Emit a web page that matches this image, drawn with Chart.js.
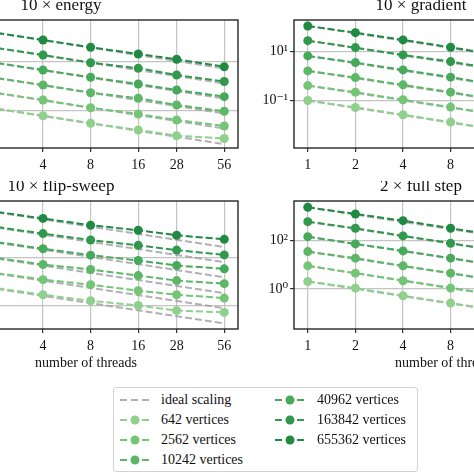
<!DOCTYPE html>
<html><head><meta charset="utf-8">
<script src="https://cdn.jsdelivr.net/npm/chart.js@4"></script>
<style>
html,body{margin:0;padding:0;background:#fff;}
#wrap{position:relative;width:474px;height:474px;overflow:hidden;background:#fff;font-family:"Liberation Serif","DejaVu Serif",serif;}
#wrap canvas{position:absolute;}
#legend{position:absolute;left:113px;top:387px;width:305px;height:85px;border:1px solid #d2d2d2;border-radius:3px;box-sizing:border-box;background:#fff;}
.item{position:absolute;height:20px;line-height:20px;font-size:14px;color:#111;white-space:nowrap;}
.item svg{position:absolute;left:0;top:5px;}
.item span{position:absolute;top:0;}
</style></head>
<body><div id="wrap">
<canvas id="cEnergy" width="364" height="180" style="left:-116px;top:0px"></canvas>
<canvas id="cGradient" width="364" height="180" style="left:244px;top:0px"></canvas>
<canvas id="cFlip" width="364" height="198" style="left:-116px;top:181px"></canvas>
<canvas id="cFull" width="364" height="198" style="left:244px;top:181px"></canvas>
<div id="legend"></div>
</div>
<script>
// ---- data ----
const threads = [1, 2, 4, 8, 16, 28, 56];
const threadTicks = [1, 2, 4, 8, 16, 28, 56];
const seriesLabels = ['642 vertices', '2562 vertices', '10242 vertices', '40962 vertices', '163842 vertices', '655362 vertices'];
const seriesColors = ['#8fd18c', '#75c577', '#5cb866', '#47aa5a', '#31994c', '#218a42'];
const idealLabel = 'ideal scaling';
const idealColor = 'rgba(160,155,165,0.8)';

// run times (one row per mesh size, one column per thread count)
const energyTimes = [
  [0.249, 0.126, 0.0643, 0.0315, 0.0168, 0.00982, 0.00755],
  [1.09, 0.553, 0.281, 0.136, 0.0755, 0.0430, 0.0244],
  [4.45, 2.26, 1.15, 0.558, 0.330, 0.176, 0.0973],
  [18.2, 9.27, 4.71, 2.38, 1.26, 0.720, 0.384],
  [74.7, 38.0, 19.3, 9.36, 5.53, 2.94, 1.60],
  [306, 156, 79.1, 39.8, 21.2, 12.9, 6.43]
];
const gradientTimes = [
  [0.100, 0.0518, 0.0261, 0.0131, 0.00619, 0.00387, 0.0020],
  [0.409, 0.220, 0.107, 0.0538, 0.0254, 0.0158, 0.0082],
  [1.63, 0.869, 0.438, 0.220, 0.104, 0.0649, 0.0337],
  [6.67, 3.56, 1.79, 0.902, 0.426, 0.265, 0.138],
  [28.1, 14.6, 7.33, 3.91, 1.84, 1.15, 0.597],
  [112, 59.7, 30.1, 15.1, 7.13, 4.46, 2.31]
];
const flipTimes = [
  [1.04, 0.552, 0.289, 0.162, 0.103, 0.0635, 0.0533],
  [4.45, 2.35, 1.23, 0.760, 0.426, 0.289, 0.210],
  [18.9, 10.0, 5.24, 3.23, 1.81, 1.12, 0.836],
  [86.1, 45.5, 23.8, 12.8, 7.71, 4.75, 3.46],
  [366, 194, 101, 54.7, 32.8, 20.8, 13.1],
  [1560, 824, 432, 226, 140, 86.1, 58.5]
];
const fullStepTimes = [
  [2.06, 1.10, 0.530, 0.265, 0.130, 0.0775, 0.0399],
  [9.10, 4.55, 2.20, 1.10, 0.541, 0.321, 0.165],
  [35.2, 18.9, 9.10, 4.55, 2.24, 1.33, 0.684],
  [146, 73.1, 37.7, 18.9, 9.27, 5.51, 2.84],
  [605, 324, 156, 78.2, 38.4, 22.8, 11.7],
  [2367, 1256, 665, 324, 159, 94.4, 48.6]
];
const panelTitles = ['10 \u00d7 energy', '10 \u00d7 gradient', '10 \u00d7 flip-sweep', '2 \u00d7 full step'];
const xAxisTitle = 'number of threads';
const energyYTicks = [1e-1, 1e1];
const gradientYTicks = [1e-1, 1e1];
const flipYTicks = [1e-1, 1e1];
const fullStepYTicks = [1e0, 1e2];

// ---- chart building ----
const FONT = '"Liberation Serif", "DejaVu Serif", serif';
const SUP = {'-':'\u207b','0':'\u2070','1':'\u00b9','2':'\u00b2','3':'\u00b3','4':'\u2074','5':'\u2075','6':'\u2076','7':'\u2077','8':'\u2078','9':'\u2079'};
function powLabel(v){
  const e = Math.round(Math.log10(v));
  return '10' + String(e).split('').map(c => SUP[c]).join('');
}
const framePlugin = {
  id: 'frame',
  afterDatasetsDraw(chart){
    const {ctx, chartArea: a} = chart;
    ctx.save();
    ctx.strokeStyle = '#262626';
    ctx.lineWidth = 1.4;
    ctx.setLineDash([]);
    ctx.strokeRect(a.left, a.top, a.right - a.left, a.bottom - a.top);
    ctx.restore();
  }
};

function makePanel(id, title, times, yTicks, yMin, yMax, withXTitle){
  const datasets = [];
  times.forEach((row, i) => {
    datasets.push({
      label: seriesLabels[i],
      data: row.map((v, j) => ({x: threads[j], y: v})),
      borderColor: seriesColors[i],
      backgroundColor: seriesColors[i],
      pointBackgroundColor: seriesColors[i],
      borderWidth: 2,
      borderDash: [7, 3],
      pointRadius: 4.5,
      pointBorderWidth: 0,
      pointHoverRadius: 4.5,
      tension: 0,
      fill: false,
      order: 0
    });
  });
  times.forEach((row) => {
    datasets.push({
      label: idealLabel,
      data: threads.map(t => ({x: t, y: row[0] / t})),
      borderColor: idealColor,
      borderWidth: 2,
      borderDash: [7, 3],
      pointRadius: 0,
      tension: 0,
      fill: false,
      order: 1
    });
  });
  const gridColor = '#c4c4c4';
  new Chart(document.getElementById(id), {
    type: 'line',
    data: {datasets},
    plugins: [framePlugin],
    options: {
      responsive: false,
      animation: false,
      devicePixelRatio: 1,
      layout: {padding: {left: 0, right: 10, top: 0, bottom: 0}, autoPadding: false},
      plugins: {
        legend: {display: false},
        tooltip: {enabled: false},
        title: {
          display: true, text: title, color: '#111',
          font: {family: FONT, size: 17, weight: 'normal', lineHeight: '12px'},
          padding: {top: 0, bottom: 8}
        }
      },
      scales: {
        x: {
          type: 'logarithmic',
          min: 0.818, max: 68.4,
          bounds: 'data',
          afterBuildTicks: s => { s.ticks = threadTicks.map(v => ({value: v})); },
          afterFit: s => { s.height = withXTitle ? 50 : 32; },
          ticks: {
            autoSkip: false, maxRotation: 0, padding: 5, color: '#111',
            font: {family: FONT, size: 14},
            callback: v => String(v)
          },
          grid: {color: gridColor, lineWidth: 1.2, drawTicks: true, tickLength: 4, tickColor: '#333', tickWidth: 1.2},
          border: {display: false},
          title: {
            display: withXTitle, text: xAxisTitle, color: '#111',
            font: {family: FONT, size: 14, lineHeight: 1.2},
            padding: {top: 0, bottom: 7.6}
          }
        },
        y: {
          type: 'logarithmic',
          min: yMin, max: yMax,
          bounds: 'data',
          afterBuildTicks: s => { s.ticks = yTicks.filter(v => v >= yMin && v <= yMax).map(v => ({value: v})); },
          afterFit: s => { s.width = 50; },
          ticks: {
            autoSkip: false, padding: 2, color: '#111',
            font: {family: FONT, size: 14},
            callback: v => powLabel(v)
          },
          grid: {color: gridColor, lineWidth: 1.2, drawTicks: true, tickLength: 4, tickColor: '#333', tickWidth: 1.2},
          border: {display: false}
        }
      }
    }
  });
}

makePanel('cEnergy', panelTitles[0], energyTimes, energyYTicks, Math.pow(10, -2.51), Math.pow(10, 2.714), false);
makePanel('cGradient', panelTitles[1], gradientTimes, gradientYTicks, Math.pow(10, -2.943), Math.pow(10, 2.294), false);
makePanel('cFlip', panelTitles[2], flipTimes, flipYTicks, Math.pow(10, -1.964), Math.pow(10, 3.361), true);
makePanel('cFull', panelTitles[3], fullStepTimes, fullStepYTicks, Math.pow(10, -1.646), Math.pow(10, 3.634), true);

// ---- legend (HTML) ----
const legendEntries = [{label: idealLabel, color: idealColor, marker: false}]
  .concat(seriesLabels.map((l, i) => ({label: l, color: seriesColors[i], marker: true})));
const legend = document.getElementById('legend');
legendEntries.forEach((e, k) => {
  const col = k < 4 ? 0 : 1;
  const row = k < 4 ? k : k - 4;
  const div = document.createElement('div');
  div.className = 'item';
  div.style.left = (col === 0 ? 6 : 161) + 'px';
  div.style.top = (2 + row * 20) + 'px';
  const svgNS = 'http://www.w3.org/2000/svg';
  const svg = document.createElementNS(svgNS, 'svg');
  svg.setAttribute('width', '32'); svg.setAttribute('height', '10');
  const line = document.createElementNS(svgNS, 'line');
  line.setAttribute('x1', '0'); line.setAttribute('x2', '30');
  line.setAttribute('y1', '5'); line.setAttribute('y2', '5');
  line.setAttribute('stroke', e.color); line.setAttribute('stroke-width', '2');
  line.setAttribute('stroke-dasharray', '7 4');
  svg.appendChild(line);
  if (e.marker) {
    const c = document.createElementNS(svgNS, 'circle');
    c.setAttribute('cx', '15'); c.setAttribute('cy', '5'); c.setAttribute('r', '4.5');
    c.setAttribute('fill', e.color);
    svg.appendChild(c);
  }
  div.appendChild(svg);
  const span = document.createElement('span');
  span.style.left = (col === 0 ? 41 : 42) + 'px';
  span.textContent = e.label;
  div.appendChild(span);
  legend.appendChild(div);
});
</script>
</body></html>
